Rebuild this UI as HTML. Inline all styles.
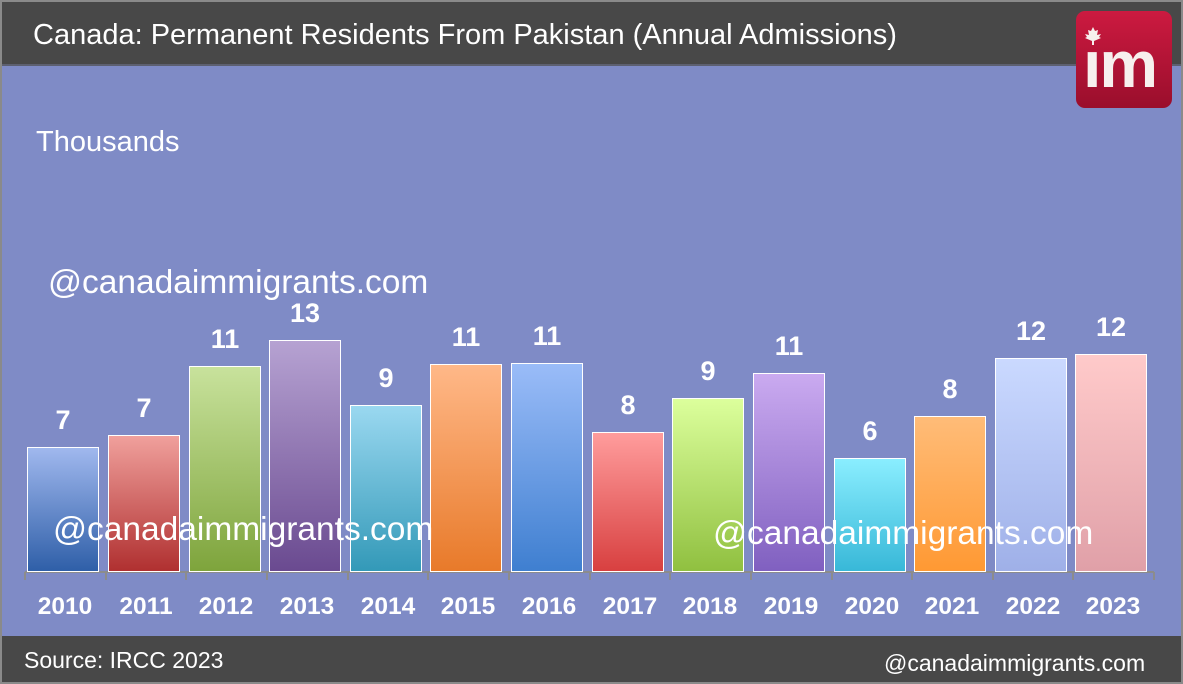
<!DOCTYPE html>
<html><head><meta charset="utf-8"><style>
body{margin:0;width:1183px;height:684px;overflow:hidden;background:#fff;font-family:"Liberation Sans",Arial,sans-serif}
.wrap{position:absolute;left:0;top:0;width:1179px;height:680px;border:2px solid #8a8a8a;background:#7f8bc6}
.hdr{position:absolute;left:0;top:0;width:1179px;height:62px;background:#484848;border-bottom:2px solid #5d6070}
.ftr{position:absolute;left:0;top:634px;width:1179px;height:46px;background:#484848}
.t{position:absolute;color:#fff;white-space:nowrap;z-index:5}
.bar{position:absolute;width:72px;border:1.5px solid #fff;box-sizing:border-box}
.v{position:absolute;width:74px;text-align:center;color:#fff;font-weight:bold;font-size:27px}
.y{position:absolute;width:80px;text-align:center;color:#fff;font-weight:bold;font-size:24.5px;top:591px}
.logo{position:absolute;left:1074px;top:9px;width:96px;height:97px;border-radius:9px;background:linear-gradient(#cc1a40,#9a0e2c);overflow:hidden}
</style></head><body><div class="wrap">
<div class="hdr"></div><div class="ftr"></div>
<div class="t" style="left:31px;top:17px;font-size:29px">Canada: Permanent Residents From Pakistan (Annual Admissions)</div>
<div class="t" style="left:34px;top:124px;font-size:29px">Thousands</div>
<svg style="position:absolute;left:0;top:0" width="1179" height="680">
<line x1="23" y1="570" x2="1152" y2="570" stroke="#8c8c8c" stroke-width="2"/>
<g stroke="#8c8c8c" stroke-width="2">
<line x1="23" y1="570" x2="23" y2="578"/><line x1="104" y1="570" x2="104" y2="578"/><line x1="184" y1="570" x2="184" y2="578"/><line x1="265" y1="570" x2="265" y2="578"/><line x1="346" y1="570" x2="346" y2="578"/><line x1="426" y1="570" x2="426" y2="578"/><line x1="507" y1="570" x2="507" y2="578"/><line x1="588" y1="570" x2="588" y2="578"/><line x1="668" y1="570" x2="668" y2="578"/><line x1="749" y1="570" x2="749" y2="578"/><line x1="830" y1="570" x2="830" y2="578"/><line x1="910" y1="570" x2="910" y2="578"/><line x1="991" y1="570" x2="991" y2="578"/><line x1="1071" y1="570" x2="1071" y2="578"/><line x1="1152" y1="570" x2="1152" y2="578"/>
</g></svg>
<div class="bar" style="left:25px;top:445px;height:125px;background:linear-gradient(#a0b8ee,#2f5fa8)"></div>
<div class="bar" style="left:106px;top:433px;height:137px;background:linear-gradient(#f0a09c,#b03030)"></div>
<div class="bar" style="left:187px;top:364px;height:206px;background:linear-gradient(#c8e29c,#7ea43c)"></div>
<div class="bar" style="left:267px;top:338px;height:232px;background:linear-gradient(#b6a2d2,#6a4a90)"></div>
<div class="bar" style="left:348px;top:403px;height:167px;background:linear-gradient(#9ad8f0,#3399b8)"></div>
<div class="bar" style="left:428px;top:362px;height:208px;background:linear-gradient(#ffb888,#e87a2a)"></div>
<div class="bar" style="left:509px;top:361px;height:209px;background:linear-gradient(#9abcf8,#3f7fd0)"></div>
<div class="bar" style="left:590px;top:430px;height:140px;background:linear-gradient(#ff9c9c,#d84040)"></div>
<div class="bar" style="left:670px;top:396px;height:174px;background:linear-gradient(#dcff9c,#90c040)"></div>
<div class="bar" style="left:751px;top:371px;height:199px;background:linear-gradient(#caaaf0,#8060c0)"></div>
<div class="bar" style="left:832px;top:456px;height:114px;background:linear-gradient(#8aeeff,#38b8d8)"></div>
<div class="bar" style="left:912px;top:414px;height:156px;background:linear-gradient(#ffbc78,#ff9933)"></div>
<div class="bar" style="left:993px;top:356px;height:214px;background:linear-gradient(#cad9ff,#9fb0e8)"></div>
<div class="bar" style="left:1073px;top:352px;height:218px;background:linear-gradient(#ffcaca,#e0a0a8)"></div>
<div class="t" style="left:46px;top:262px;font-size:33.5px">@canadaimmigrants.com</div>
<div class="t" style="left:51px;top:509px;font-size:33.5px">@canadaimmigrants.com</div>
<div class="t" style="left:711px;top:513px;font-size:33.5px">@canadaimmigrants.com</div>
<div class="t" style="left:22px;top:645px;font-size:23px">Source: IRCC 2023</div>
<div class="t" style="left:882px;top:648px;font-size:23px">@canadaimmigrants.com</div>
<div class="v" style="left:24px;top:403px">7</div><div class="v" style="left:105px;top:391px">7</div><div class="v" style="left:186px;top:322px">11</div><div class="v" style="left:266px;top:296px">13</div><div class="v" style="left:347px;top:361px">9</div><div class="v" style="left:427px;top:320px">11</div><div class="v" style="left:508px;top:319px">11</div><div class="v" style="left:589px;top:388px">8</div><div class="v" style="left:669px;top:354px">9</div><div class="v" style="left:750px;top:329px">11</div><div class="v" style="left:831px;top:414px">6</div><div class="v" style="left:911px;top:372px">8</div><div class="v" style="left:992px;top:314px">12</div><div class="v" style="left:1072px;top:310px">12</div>
<div class="y" style="left:23px">2010</div><div class="y" style="left:104px">2011</div><div class="y" style="left:184px">2012</div><div class="y" style="left:265px">2013</div><div class="y" style="left:346px">2014</div><div class="y" style="left:426px">2015</div><div class="y" style="left:507px">2016</div><div class="y" style="left:588px">2017</div><div class="y" style="left:668px">2018</div><div class="y" style="left:749px">2019</div><div class="y" style="left:830px">2020</div><div class="y" style="left:910px">2021</div><div class="y" style="left:991px">2022</div><div class="y" style="left:1071px">2023</div>
<div class="logo"><div style="position:absolute;left:7px;top:18px;color:#f7f0ee;font-size:66px;font-weight:bold;line-height:70px;letter-spacing:-2px">ım</div><svg style="position:absolute;left:7px;top:15px" width="20" height="20" viewBox="0 0 20 20"><path d="M10 1 L12 5 L15 4 L14 9 L18 8 L16 11 L18 12 L11 15 L11 19 L9 19 L9 15 L2 12 L4 11 L2 8 L6 9 L5 4 L8 5 Z" fill="#f7f0ee"/></svg></div>
</div></body></html>
